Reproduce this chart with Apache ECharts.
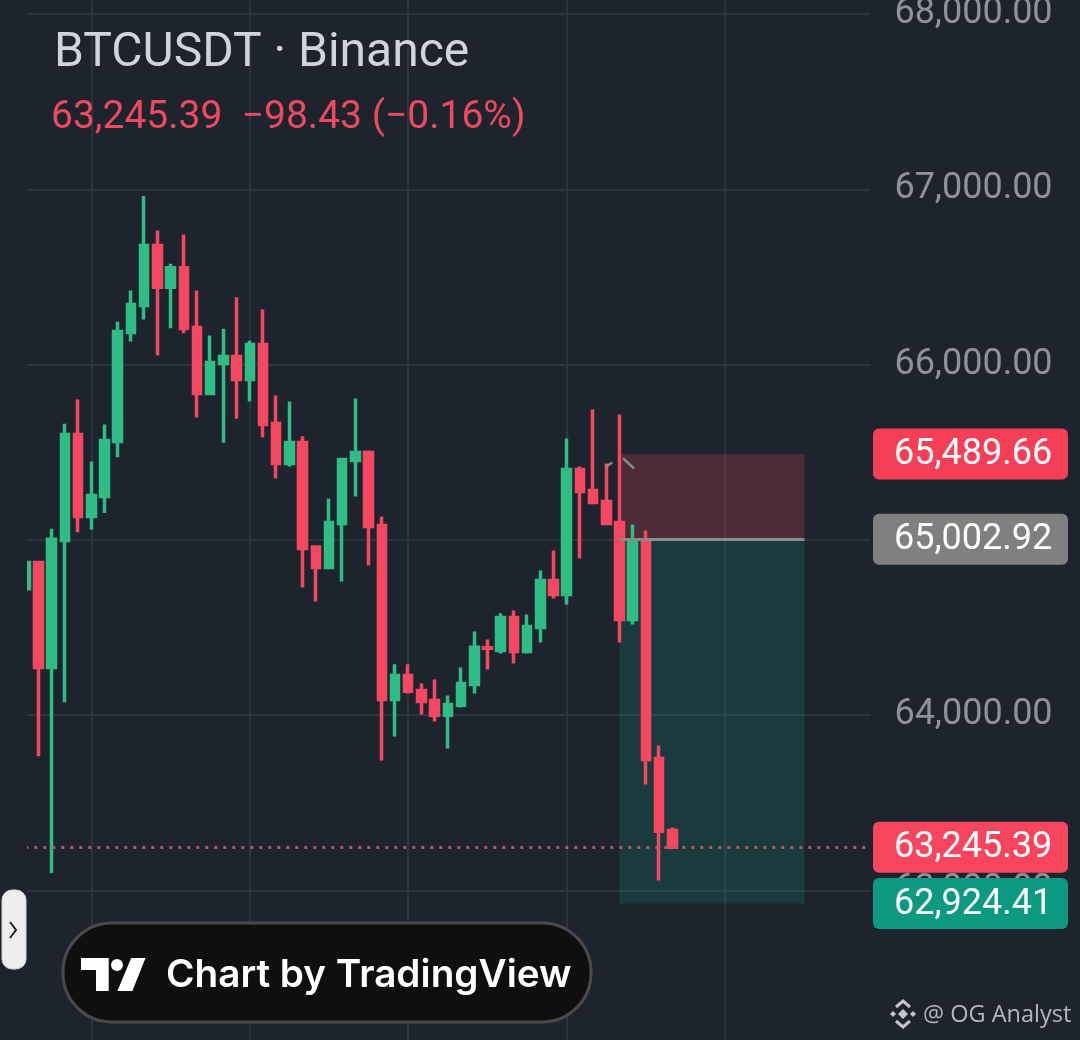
<!DOCTYPE html>
<html>
<head>
<meta charset="utf-8">
<style>html,body{margin:0;padding:0;background:#1e242e}#c{width:1080px;height:1040px}</style>
<script src="https://cdn.jsdelivr.net/npm/echarts@6/dist/echarts.min.js"></script>
</head>
<body>
<div id="c"></div>
<script>
var opens  = [64720,64870,64271,64996,65601,65133,65247,65561,66183,66337,66679,66441,66552,66211,65835,66006,66046,65915,66114,65664,65435,65555,64958,64842,65093,65452,65498,65082,64089,64226,64140,64083,63998,64055,64174,64384,64368,64557,64363,64500,64768,64688,65401,65281,65219,65099,64545,64985,63752,63341];
var closes = [64870,64271,65003,65601,65133,65253,65567,66189,66343,66679,66441,66552,66206,65835,66012,66046,65915,66114,65658,65435,65555,64950,64842,65099,65458,65498,65076,64089,64226,64135,64077,63998,64060,64180,64386,64381,64557,64363,64505,64768,64688,65401,65276,65213,65093,64545,64985,63746,63336,63245.39];
var lows   = [64720,63764,63098,64073,65043,65059,65152,65471,66132,66257,66052,66207,66179,65698,65835,65554,65691,65789,65584,65350,65418,64728,64648,64838,64762,65247,64853,63741,63878,64123,64003,63963,63809,64043,64123,64260,64351,64294,64351,64414,64665,64631,64893,65213,65093,64414,64517,63604,63056,63245.39];
var highs  = [64870,64870,65063,65662,65801,65447,65658,66244,66423,66961,66765,66575,66742,66423,66166,66204,66384,66136,66314,65823,65789,65590,64962,65236,65462,65806,65510,65133,64289,64289,64180,64203,64112,64271,64477,64431,64580,64597,64574,64825,64939,65578,65418,65744,65435,65715,65087,65053,63826,63358];
var slotCount = 65;
var categories = [];
for (var n = 0; n < slotCount; n++) categories.push(String(n));

var lastPrice = 63245.39;
var stopPrice = 65489.66;
var entryPrice = 65002.92;
var targetPrice = 62924.41;
var zoneStart = '45';
var zoneEnd = '59';
var tagPrices = [stopPrice, entryPrice, lastPrice, targetPrice];
var tagColors = ['#f43f56', '#808080', '#f7455e', '#0b9a7f'];
var toolStrokes = [[44,65418,0,44,65441,0.45],[45,65464,0.27,46,65407,0.1]];

var titleText = 'BTCUSDT \u00b7 Binance';
var quoteText = '63,245.39  \u221298.43 (\u22120.16%)';

var money = function (v) { return v.toLocaleString('en-US', {minimumFractionDigits: 2, maximumFractionDigits: 2}); };
var candles = opens.map(function (o, i) { return [o, closes[i], lows[i], highs[i]]; });

var chart = echarts.init(document.getElementById('c'));
chart.setOption({
  animation: false,
  backgroundColor: '#1e242e',
  title: [
    {text: titleText, left: 54, top: 30, padding: 0, textStyle: {color: '#d1d4da', fontFamily: 'Roboto', fontSize: 48, fontWeight: 'normal'}},
    {text: quoteText, left: 51, top: 99, padding: 0, textStyle: {color: '#ee4a5f', fontFamily: 'Roboto', fontSize: 39, fontWeight: 'normal'}}
  ],
  grid: {left: 25.3, top: 0, width: 845.1, height: 1065.5, containLabel: false, outerBoundsMode: 'none'},
  xAxis: {
    type: 'category', data: categories, boundaryGap: false,
    axisLine: {show: false}, axisTick: {show: false}, axisLabel: {show: false},
    splitLine: {show: true, interval: function (i) { return (i - 5) % 12 === 0; }, lineStyle: {color: '#2e343e', width: 2}}
  },
  yAxis: {
    type: 'value', position: 'right', min: 62000, max: 68080, interval: 1000,
    axisLine: {show: false}, axisTick: {show: false},
    axisLabel: {
      margin: 24, color: '#8d929b', fontFamily: 'Roboto', fontSize: 36, padding: [0, 0, 8, 0],
      showMaxLabel: false, showMinLabel: false, hideOverlap: false,
      formatter: function (v) { return v % 1000 === 0 ? money(v) : ''; }
    },
    splitLine: {show: true, showMaxLine: false, lineStyle: {color: '#2e343e', width: 2}}
  },
  series: [
    {
      type: 'candlestick', data: candles, barWidth: 8, silent: true, z: 3,
      itemStyle: {color: '#2fbd85', color0: '#f5475f', borderColor: '#2fbd85', borderColor0: '#f5475f', borderWidth: 3.5},
      markArea: {
        silent: true,
        data: [
          [{xAxis: zoneStart, yAxis: stopPrice, itemStyle: {color: 'rgba(247,69,94,0.22)'}}, {xAxis: zoneEnd, yAxis: entryPrice}],
          [{xAxis: zoneStart, yAxis: entryPrice, itemStyle: {color: 'rgba(8,153,129,0.2)'}}, {xAxis: zoneEnd, yAxis: targetPrice}]
        ]
      },
      markLine: {
        silent: true, symbol: 'none', label: {show: false},
        data: [
          {yAxis: lastPrice, lineStyle: {color: '#b05a6c', width: 3, type: [3, 6]}},
          [{xAxis: zoneStart, yAxis: entryPrice, lineStyle: {color: '#8b8b8b', width: 3, type: 'solid'}}, {xAxis: zoneEnd, yAxis: entryPrice}]
        ]
      }
    },
    {
      type: 'custom', silent: true, z: 4, data: toolStrokes,
      renderItem: function (p, api) {
        var step = api.size([1, 0])[0];
        var a = api.coord([api.value(0), api.value(1)]);
        var b = api.coord([api.value(3), api.value(4)]);
        return {type: 'line', shape: {x1: a[0] + api.value(2) * step, y1: a[1], x2: b[0] + api.value(5) * step, y2: b[1]},
          style: {stroke: '#8b8b8b', lineWidth: 2.5}};
      }
    },
    {
      type: 'custom', silent: true, z: 10, clip: false,
      data: tagPrices.map(function (v) { return [0, v]; }),
      renderItem: function (p, api) {
        var price = api.value(1);
        var y = api.coord([0, price])[1];
        return {type: 'group', children: [
          {type: 'rect', shape: {x: 873, y: y - 25.5, width: 195, height: 51, r: 6}, style: {fill: tagColors[p.dataIndex]}},
          {type: 'text', style: {text: money(price), x: 894, y: y + 1, fill: '#ffffff', font: '36px Roboto', verticalAlign: 'middle', align: 'left'}}
        ]};
      }
    }
  ],
  graphic: [
    {type: 'rect', z: 50, shape: {x: 0, y: 0, width: 27, height: 1040}, style: {fill: '#1e242e'}},
    {type: 'rect', z: 100, shape: {x: 2, y: 890, width: 24, height: 79, r: 10}, style: {fill: '#eeeeee', stroke: '#d4d4d4', lineWidth: 1}},
    {type: 'polyline', z: 101, shape: {points: [[10, 922], [16, 930], [10, 938]]}, style: {stroke: '#222222', lineWidth: 2, fill: null}},
    {type: 'rect', z: 100, shape: {x: 63, y: 923, width: 528, height: 99, r: 49}, style: {fill: '#0f0f0f', stroke: '#4a4a4a', lineWidth: 3}},
    {type: 'polygon', z: 101, shape: {points: [[81,958],[108.7,958],[108.7,991],[96,991],[96,970],[81,970]]}, style: {fill: '#ffffff'}},
    {type: 'circle', z: 101, shape: {cx: 117, cy: 965, r: 6}, style: {fill: '#ffffff'}},
    {type: 'polygon', z: 101, shape: {points: [[131.2,958],[145.5,958],[132.4,991],[117.4,991]]}, style: {fill: '#ffffff'}},
    {type: 'text', z: 101, style: {text: 'Chart by TradingView', x: 166, y: 975, fill: '#ffffff', font: '600 38.7px Inter', verticalAlign: 'middle'}},
    {type: 'text', z: 101, style: {text: '@ OG Analyst', x: 923, y: 1015, fill: '#b4b7bd', font: '23.5px "Open Sans"', verticalAlign: 'middle'}},
    {type: 'polygon', z: 101, shape: {points: [[903,1009],[908,1014],[903,1019],[898,1014]]}, style: {fill: '#c4c6ca'}},
    {type: 'polygon', z: 101, shape: {points: [[893,1011],[896,1014],[893,1017],[890,1014]]}, style: {fill: '#c4c6ca'}},
    {type: 'polygon', z: 101, shape: {points: [[913,1011],[916,1014],[913,1017],[910,1014]]}, style: {fill: '#c4c6ca'}},
    {type: 'polyline', z: 101, shape: {points: [[896,1007],[903,1001],[910,1007]]}, style: {stroke: '#c4c6ca', lineWidth: 3, fill: null}},
    {type: 'polyline', z: 101, shape: {points: [[896,1021],[903,1027],[910,1021]]}, style: {stroke: '#c4c6ca', lineWidth: 3, fill: null}}
  ]
});
</script>
</body>
</html>
